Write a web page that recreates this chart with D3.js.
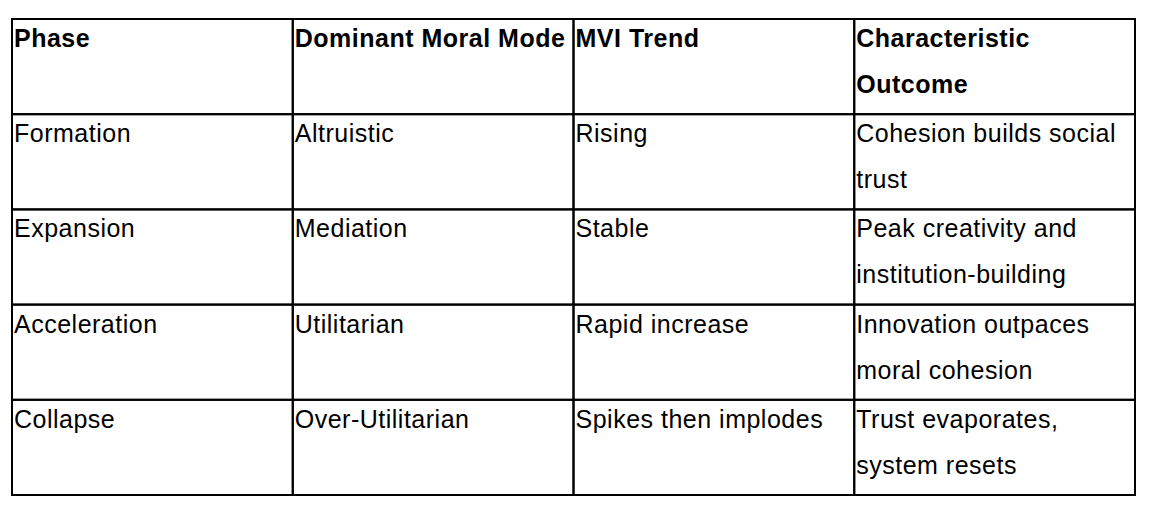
<!DOCTYPE html>
<html><head><meta charset="utf-8">
<script src="https://cdn.jsdelivr.net/npm/d3@7"></script>
<style>body{margin:0;background:#fff}</style>
</head><body><div id="chart"></div>
<script>
const headers = ['Phase', 'Dominant Moral Mode', 'MVI Trend', 'Characteristic\nOutcome'];
const phases = ['Formation', 'Expansion', 'Acceleration', 'Collapse'];
const moralModes = ['Altruistic', 'Mediation', 'Utilitarian', 'Over-Utilitarian'];
const mviTrends = ['Rising', 'Stable', 'Rapid increase', 'Spikes then implodes'];
const outcomes = ['Cohesion builds social\ntrust', 'Peak creativity and\ninstitution-building',
  'Innovation outpaces\nmoral cohesion', 'Trust evaporates,\nsystem resets'];

const W = 1150, H = 514;
const rows = [headers].concat(phases.map((p, i) => [p, moralModes[i], mviTrends[i], outcomes[i]]));

const svg = d3.select('#chart').append('svg').attr('width', W).attr('height', H);
const x = d3.scaleBand().domain(d3.range(4)).range([12, 1135]);
const y = d3.scaleBand().domain(d3.range(rows.length)).range([19, 495]);

const cells = [];
rows.forEach((r, ri) => r.forEach((t, ci) => cells.push({ri, ci, t})));

const g = svg.append('g');
g.selectAll('rect').data(cells).enter().append('rect')
  .attr('x', d => x(d.ci)).attr('y', d => y(d.ri))
  .attr('width', x.bandwidth()).attr('height', y.bandwidth())
  .attr('fill', 'none').attr('stroke', '#000').attr('stroke-width', 2);

const txt = g.selectAll('text').data(cells).enter().append('text')
  .attr('x', d => x(d.ci) + 2).attr('y', d => y(d.ri) + 28)
  .attr('font-family', 'Liberation Sans, Arial, sans-serif')
  .attr('font-size', 25)
  .attr('letter-spacing', 0.5)
  .attr('font-weight', d => d.ri === 0 ? 'bold' : 'normal')
  .attr('fill', '#000');
txt.each(function(d) {
  const el = d3.select(this);
  d.t.split('\n').forEach((line, li) => {
    el.append('tspan').attr('x', x(d.ci) + 2).attr('dy', li ? 46 : 0).text(line);
  });
});
</script></body></html>
